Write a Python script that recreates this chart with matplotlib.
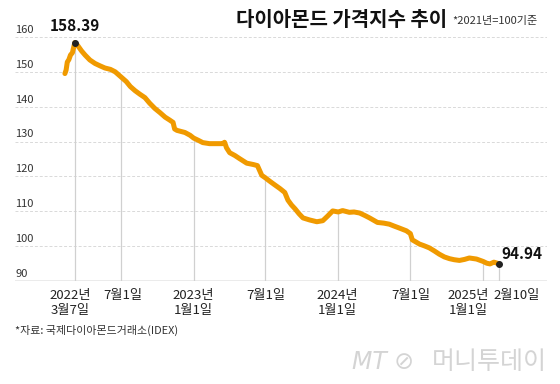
import numpy as np
import pandas as pd
import matplotlib
matplotlib.use("Agg")
import matplotlib.pyplot as plt
import matplotlib.dates as mdates

plt.rcParams['font.family'] = ['Noto Sans CJK KR', 'DejaVu Sans']

# diamond price index (2021 = 100)
dates = pd.to_datetime([
    "2022-02-10", "2022-02-13", "2022-02-16", "2022-02-20", "2022-02-24", "2022-03-01",
    "2022-03-03", "2022-03-07", "2022-03-14", "2022-03-24", "2022-04-02", "2022-04-14",
    "2022-04-27", "2022-05-10", "2022-05-22", "2022-06-05", "2022-06-17", "2022-07-01",
    "2022-07-15", "2022-07-25", "2022-08-06", "2022-08-18", "2022-08-31", "2022-09-12",
    "2022-09-25", "2022-10-08", "2022-10-21", "2022-11-01", "2022-11-10", "2022-11-14",
    "2022-11-20", "2022-12-10", "2022-12-23", "2023-01-01", "2023-01-12", "2023-01-24",
    "2023-02-10", "2023-02-25", "2023-03-15", "2023-03-20", "2023-03-25", "2023-04-02",
    "2023-04-15", "2023-04-27", "2023-05-15", "2023-06-01", "2023-06-11", "2023-06-22",
    "2023-07-01", "2023-07-10", "2023-07-22", "2023-08-07", "2023-08-19", "2023-08-27",
    "2023-09-05", "2023-09-14", "2023-09-24", "2023-10-04", "2023-10-21", "2023-11-08",
    "2023-11-23", "2023-12-05", "2023-12-18", "2024-01-01", "2024-01-12", "2024-01-29",
    "2024-02-10", "2024-02-24", "2024-03-08", "2024-03-20", "2024-04-09", "2024-04-25",
    "2024-05-09", "2024-05-20", "2024-06-03", "2024-06-21", "2024-07-01", "2024-07-06",
    "2024-07-24", "2024-08-05", "2024-08-18", "2024-08-31", "2024-09-12", "2024-09-25",
    "2024-10-08", "2024-10-20", "2024-11-02", "2024-11-15", "2024-11-27", "2024-12-15",
    "2025-01-01", "2025-01-10", "2025-01-18", "2025-01-28", "2025-02-10",
])
values = [
    149.5, 150.5, 152.8, 153.5, 154.8, 155.5,
    156.5, 158.39, 157.6, 156.0, 154.8, 153.4,
    152.4, 151.7, 151.1, 150.7, 150.0, 148.6,
    147.2, 145.8, 144.6, 143.6, 142.6, 141.0,
    139.5, 138.3, 137.0, 136.2, 135.5, 133.6,
    133.2, 132.6, 131.8, 131.0, 130.4, 129.7,
    129.4, 129.4, 129.4, 129.8, 128.2, 126.8,
    126.0, 125.1, 123.8, 123.4, 123.1, 120.3,
    119.6, 118.8, 117.8, 116.5, 115.4, 113.2,
    111.8, 110.7, 109.3, 108.1, 107.5, 107.0,
    107.3, 108.6, 110.1, 109.8, 110.2, 109.7,
    109.8, 109.5, 108.8, 108.1, 106.8, 106.6,
    106.3, 105.8, 105.2, 104.4, 103.6, 101.8,
    100.6, 100.1, 99.5, 98.6, 97.7, 96.9,
    96.4, 96.1, 95.9, 96.2, 96.6, 96.3,
    95.6, 95.1, 94.9, 95.4, 94.94,
]

tick_dates = pd.to_datetime(["2022-03-07", "2022-07-01", "2023-01-01", "2023-07-01",
                             "2024-01-01", "2024-07-01", "2025-01-01", "2025-02-10"])
tick_labels = ["2022년\n3월7일", "7월1일", "2023년\n1월1일", "7월1일",
               "2024년\n1월1일", "7월1일", "2025년\n1월1일", "2월10일"]
tick_shift = [-5, 2, 0, 0, -1, 0, -15, 18]  # px, label nudges as in the original

yticks = [90, 100, 110, 120, 130, 140, 150, 160]
orange = "#F09A00"

fig = plt.figure(figsize=(5.6, 3.84), dpi=100)
ax = fig.add_axes([15 / 560, 103 / 384, 532 / 560, 251 / 384])

ax.set_xlim(pd.Timestamp("2021-10-07"), pd.Timestamp("2025-06-11"))
ax.set_ylim(90, 162)

# dashed horizontal grid
for yv in yticks[1:]:
    ax.axhline(yv, color="#d9d9d9", lw=0.7, ls=(0, (3, 2)), zorder=0)
ax.axhline(90, color="#999999", lw=1.0, zorder=1)

# vertical guides from baseline up to the line
xnum = mdates.date2num(dates)
for td in tick_dates:
    yv = np.interp(mdates.date2num(td), xnum, values)
    ax.plot([td, td], [90, yv], color="#d0d0d0", lw=0.9, zorder=1)

ax.plot(dates, values, color=orange, lw=3.6, solid_capstyle="round",
        solid_joinstyle="round", zorder=3)

# highlight peak and latest
ax.scatter([dates[7], dates[-1]], [values[7], values[-1]], s=16, color="#222222", zorder=4)
ax.annotate(f"{values[7]:.2f}", (dates[7], values[7]), xytext=(0, 6),
            textcoords="offset points", ha="center", va="bottom",
            fontsize=11, fontweight="bold", color="#111111")
ax.annotate(f"{values[-1]:.2f}", (dates[-1], values[-1]), xytext=(2, 1),
            textcoords="offset points", ha="left", va="bottom",
            fontsize=11, fontweight="bold", color="#111111")

# y labels sit above the gridlines
for yv in yticks:
    ax.annotate(str(yv), (0, yv), xycoords=("axes fraction", "data"), xytext=(0, 1.5),
                textcoords="offset points", ha="left", va="bottom",
                fontsize=8, color="#333333")

# x labels
for td, lab, sh in zip(tick_dates, tick_labels, tick_shift):
    ax.annotate(lab, (td, 90), xytext=(sh * 0.72, -6), textcoords="offset points",
                ha="center", va="top", fontsize=9.5, color="#222222", linespacing=1.2)

ax.set_xticks([])
ax.set_yticks([])
for s in ax.spines.values():
    s.set_visible(False)

fig.text(447 / 560, 1 - 20 / 384, "다이아몬드 가격지수 추이", ha="right", va="center",
         fontsize=14.4, fontweight="bold", color="#111111")
fig.text(452 / 560, 1 - 21 / 384, "*2021년=100기준", ha="left", va="center",
         fontsize=8, color="#333333")
fig.text(15 / 560, 1 - 330 / 384, "*자료: 국제다이아몬드거래소(IDEX)", ha="left", va="center",
         fontsize=7.9, color="#333333")
fig.text(414 / 560, 1 - 362 / 384, "MT ⊘", ha="right", va="center",
         fontsize=17, style="italic", color="#d4d4d4", family=["DejaVu Sans"])
fig.text(547 / 560, 1 - 362 / 384, "머니투데이", ha="right", va="center",
         fontsize=18, color="#d4d4d4")

fig.savefig("out.png", dpi=100)
